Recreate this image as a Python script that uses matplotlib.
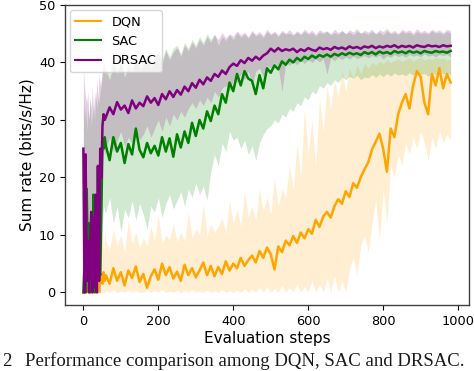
import numpy as np
import matplotlib
matplotlib.use("Agg")
import matplotlib.pyplot as plt

# ---------------- data ----------------
early_steps = list(range(0, 60, 3))
main_steps = list(range(60, 990, 10))
steps = early_steps + main_steps

# DQN
dqn_early = [0.0, 0.0, 0.5, 0.0, 0.8, 0.0, 0.5, 0.0, 0.6, 0.0,
             0.4, 0.0, 0.7, 0.0, 1.0, 2.5, 3.0, 1.5, 3.5, 2.0]
dqn_main = [3.0, 1.5, 4.2, 2.0, 3.5, 1.2, 3.8, 2.5, 4.5, 1.8,
            3.2, 0.8, 2.8, 4.0, 2.2, 5.0, 3.0, 4.4, 2.4, 3.6,
            2.0, 4.8, 3.0, 4.2, 2.6, 3.8, 5.2, 3.0, 4.6, 2.8,
            4.4, 3.2, 5.4, 3.8, 5.0, 4.2, 6.0, 4.6, 5.6, 6.4,
            5.2, 7.2, 6.0, 7.8, 6.6, 4.0, 8.0, 7.0, 9.0, 8.2,
            9.8, 8.6, 10.4, 9.4, 11.0, 10.2, 12.6, 11.4, 13.2, 14.0,
            13.0, 15.0, 16.2, 15.4, 17.6, 16.6, 19.0, 18.2, 20.0, 21.4,
            22.6, 24.8, 26.2, 27.6, 25.0, 21.0, 28.5, 27.0, 31.0, 33.0,
            34.5, 32.0, 36.0, 38.5, 37.5, 33.0, 31.0, 38.0, 36.0, 39.0,
            35.5, 38.0, 36.5]
dqn_up_early = [2, 4, 3, 5, 4, 6, 3, 5, 4, 6, 5, 7, 4, 6, 7, 9, 8, 10, 7, 11]
dqn_up_main = [9.0, 7.5, 11.0, 8.0, 10.0, 7.0, 12.5, 8.5, 10.5, 7.8,
               9.5, 8.0, 11.5, 9.0, 13.5, 8.5, 10.0, 9.2, 12.0, 8.8,
               10.5, 9.0, 14.0, 9.5, 11.0, 10.0, 15.5, 9.8, 12.0, 10.5,
               11.5, 13.0, 10.5, 16.0, 12.0, 14.5, 11.5, 17.5, 13.0, 15.0,
               12.5, 18.0, 14.0, 16.5, 13.5, 20.0, 15.0, 18.0, 16.5, 22.0,
               18.0, 26.0, 20.0, 32.0, 24.0, 30.0, 22.0, 34.0, 28.0, 36.0,
               32.0, 37.0, 34.0, 38.5, 35.0, 39.0, 37.0, 39.5, 38.0, 39.8,
               39.0, 40.0, 39.5, 40.2, 39.8, 40.5, 40.0, 40.3, 40.6, 40.2,
               40.5, 40.8, 40.2, 40.6, 40.9, 40.4, 40.7, 40.5, 40.9, 40.6,
               40.8, 40.4, 40.6]
dqn_lo_early = [0.0] * 20
dqn_lo_main = [0.3, 0.0, 0.5, 0.0, 0.2, 0.0, 0.4, 0.0, 0.3, 0.0,
               0.0, 0.4, 0.0, 0.3, 0.0, 0.5, 0.0, 0.2, 0.0, 0.4,
               0.0, 0.3, 0.0, 0.5, 0.0, 0.2, 0.0, 0.4, 0.0, 0.3,
               0.0, 0.5, 0.0, 0.3, 0.0, 0.4, 0.0, 0.6, 0.0, 0.5,
               0.0, 0.8, 0.0, 1.0, 0.0, 0.6, 0.0, 1.2, 0.0, 0.8,
               0.0, 1.5, 0.0, 1.0, 0.0, 2.0, 0.0, 1.5, 0.0, 2.5,
               0.0, 3.0, 0.0, 2.0, 0.0, 4.0, 6.0, 3.0, 8.0, 10.0,
               7.0, 12.0, 16.0, 9.0, 18.0, 12.0, 22.0, 20.0, 24.0, 22.0,
               26.0, 24.0, 27.0, 25.0, 28.0, 26.0, 23.0, 27.0, 25.0, 28.0,
               26.0, 27.5, 26.5]

# SAC
sac_early = [0.0, 5.0, 0.0, 18.0, 3.0, 12.0, 0.0, 6.0, 2.0, 17.0,
             0.0, 10.0, 3.0, 22.0, 4.0, 3.0, 14.0, 26.0, 25.0, 27.0]
sac_main = [25.5, 23.0, 27.0, 24.5, 26.0, 22.5, 25.8, 24.0, 28.5, 24.8,
            23.5, 26.0, 24.2, 25.5, 23.8, 27.0, 24.5, 26.8, 23.6, 27.5,
            25.2, 28.0, 26.0, 29.5, 27.2, 30.0, 28.5, 31.5, 29.8, 32.5,
            31.0, 34.5, 33.0, 36.5, 35.0, 38.0, 36.0, 38.5, 37.2, 36.8,
            34.5, 37.8, 35.5, 39.0, 38.2, 39.5, 38.8, 40.2, 39.6, 40.5,
            40.0, 40.8, 40.3, 41.0, 40.6, 41.2, 40.8, 41.3, 41.0, 41.4,
            41.0, 41.5, 41.2, 41.6, 41.3, 41.7, 41.4, 41.6, 41.3, 41.8,
            41.5, 41.8, 41.4, 41.9, 41.6, 41.8, 41.5, 42.0, 41.7, 41.9,
            41.6, 42.0, 41.7, 41.9, 41.6, 42.0, 41.8, 41.7, 42.0, 41.8,
            41.9, 41.7, 42.0]
sac_up_early = [35, 30, 33, 28, 32, 30, 34, 29, 31, 33,
                30, 35, 32, 34, 33, 35, 36, 38, 40, 39]
sac_up_main = [39.0, 38.0, 40.5, 38.5, 40.5, 38.0, 40.0, 39.0, 41.0, 39.5,
               40.0, 41.5, 40.0, 41.0, 42.0, 40.5, 42.5, 41.0, 42.5, 43.0,
               41.5, 43.5, 42.5, 44.0, 43.0, 44.5, 43.5, 45.0, 44.0, 45.0,
               43.0, 44.5, 43.8, 44.8, 44.0, 45.2, 44.4, 45.0, 44.2, 45.3,
               44.6, 45.0, 44.3, 45.4, 44.8, 45.2, 44.5, 45.3, 44.9, 45.1,
               44.7, 45.3, 44.8, 45.4, 44.9, 45.2, 44.6, 45.3, 45.0, 45.4,
               44.8, 45.2, 44.9, 45.5, 45.0, 45.3, 44.8, 45.4, 45.1, 45.2,
               44.9, 45.4, 45.0, 45.3, 44.8, 45.5, 45.0, 45.2, 44.9, 45.4,
               45.1, 45.3, 44.8, 45.4, 45.0, 45.2, 44.9, 45.5, 45.1, 45.3,
               44.9, 45.4, 45.1]
sac_lo_early = [0.0] * 16 + [5.0, 12.0, 15.0, 14.0]
sac_lo_main = [14.0, 16.5, 12.0, 15.0, 10.5, 14.5, 13.0, 16.0, 12.5, 15.5,
               13.5, 11.0, 15.0, 14.0, 16.5, 13.0, 15.5, 17.0, 14.5, 16.0,
               17.5, 15.0, 18.0, 16.5, 19.0, 17.0, 18.5, 16.0, 21.0, 24.0,
               22.0, 26.0, 24.5, 28.0, 26.5, 27.0, 25.0, 26.5, 24.0, 25.5,
               23.0, 26.0, 27.5, 28.5, 29.0, 30.0, 29.5, 31.0, 30.5, 32.0,
               31.5, 33.0, 32.5, 34.0, 33.5, 35.0, 34.5, 36.0, 35.5, 36.5,
               36.0, 37.0, 36.5, 37.5, 37.0, 37.6, 37.2, 37.8, 37.0, 37.5,
               37.3, 37.9, 37.4, 38.0, 37.5, 38.1, 37.6, 38.2, 37.8, 38.0,
               37.7, 38.2, 37.8, 38.3, 37.9, 38.1, 37.6, 38.2, 37.9, 38.3,
               38.0, 38.2, 37.8]

# DRSAC
drsac_early = [25.0, 0.0, 24.0, 2.0, 9.0, 0.0, 8.0, 14.0, 0.0, 13.0,
               1.0, 17.0, 0.0, 22.0, 2.0, 25.0, 20.0, 29.0, 31.0, 30.0]
drsac_main = [30.5, 32.2, 31.0, 33.1, 31.8, 32.5, 31.2, 33.4, 32.0, 33.0,
              32.4, 34.1, 33.0, 33.8, 32.6, 34.5, 33.6, 35.0, 34.0, 35.2,
              34.4, 35.8, 35.0, 36.4, 35.6, 37.0, 36.2, 37.4, 36.8, 38.0,
              37.5, 38.6, 38.0, 39.2, 39.8, 39.4, 40.4, 39.9, 40.8, 40.3,
              41.0, 40.5, 41.2, 41.6, 42.4, 41.9, 42.5, 42.0, 42.3, 42.1,
              42.4, 41.8, 42.3, 42.0, 42.5, 42.2, 42.0, 42.6, 42.3, 42.5,
              42.2, 42.7, 42.4, 42.6, 42.3, 42.8, 42.5, 42.7, 42.4, 42.8,
              42.6, 42.9, 42.5, 42.8, 42.6, 42.9, 42.7, 43.0, 42.6, 42.9,
              42.7, 42.9, 42.6, 43.0, 42.8, 42.7, 43.0, 42.8, 42.9, 42.7,
              43.0, 42.8, 42.9]
drsac_up_early = [39, 36, 34, 33, 35, 30, 34, 32, 36, 31,
                  35, 33, 37, 34, 38, 36, 37, 39, 40, 38]
drsac_up_main = [38.5, 37.0, 39.5, 38.0, 40.0, 37.5, 39.0, 38.2, 40.5, 38.8,
                 39.5, 41.0, 39.0, 40.5, 41.5, 39.8, 42.0, 40.5, 41.8, 42.6,
                 41.0, 43.0, 42.0, 43.5, 42.5, 44.0, 43.0, 44.5, 43.5, 44.8,
                 44.0, 45.2, 44.3, 45.0, 44.6, 45.5, 44.8, 45.3, 44.5, 45.6,
                 44.9, 45.4, 44.7, 45.8, 45.0, 45.5, 44.8, 45.6, 45.1, 45.7,
                 44.9, 45.5, 45.0, 45.8, 45.2, 45.6, 44.9, 45.7, 45.3, 45.5,
                 45.0, 45.8, 45.2, 45.6, 45.0, 45.7, 45.3, 45.9, 45.1, 45.6,
                 45.3, 45.8, 45.0, 45.7, 45.4, 45.9, 45.2, 45.6, 45.0, 45.8,
                 45.4, 45.7, 45.1, 45.9, 45.3, 45.6, 45.2, 45.8, 45.4, 45.7,
                 45.2, 45.8, 45.5]
drsac_lo_early = [0.0] * 16 + [10.0, 22.0, 25.0, 24.0]
drsac_lo_main = [25.0, 27.0, 24.5, 26.5, 28.0, 25.5, 27.0, 26.0, 28.5, 26.5,
                 27.5, 29.0, 27.0, 28.5, 30.0, 28.0, 30.5, 29.0, 31.0, 30.0,
                 31.5, 30.5, 32.0, 33.0, 32.0, 33.5, 32.5, 34.0, 33.0, 35.0,
                 34.0, 35.5, 36.0, 35.0, 37.0, 36.5, 38.0, 37.0, 38.5, 36.0,
                 38.5, 39.0, 37.5, 39.5, 39.0, 40.0, 39.2, 35.0, 40.0, 39.5,
                 40.2, 39.6, 40.4, 39.8, 40.5, 40.0, 40.6, 40.1, 40.7, 38.0,
                 40.8, 40.3, 40.9, 40.5, 41.0, 40.6, 41.1, 40.7, 40.9, 41.2,
                 40.8, 41.2, 40.9, 41.3, 40.6, 41.2, 40.9, 41.4, 41.0, 41.3,
                 40.9, 41.4, 41.1, 41.3, 41.0, 41.5, 41.1, 41.3, 41.0, 41.4,
                 41.2, 41.4, 41.0]

labels = ["DQN", "SAC", "DRSAC"]
colors = ["orange", "green", "purple"]
xticks = [0, 200, 400, 600, 800, 1000]
yticks = [0, 10, 20, 30, 40, 50]
caption_num = "2"
caption = "Performance comparison among DQN, SAC and DRSAC."

# ---------------- plot ----------------
x = np.array(steps)
series = [
    (np.array(dqn_early + dqn_main), np.array(dqn_lo_early + dqn_lo_main), np.array(dqn_up_early + dqn_up_main)),
    (np.array(sac_early + sac_main), np.array(sac_lo_early + sac_lo_main), np.array(sac_up_early + sac_up_main)),
    (np.array(drsac_early + drsac_main), np.array(drsac_lo_early + drsac_lo_main), np.array(drsac_up_early + drsac_up_main)),
]

fig = plt.figure(figsize=(4.74, 3.71), dpi=100)
ax = fig.add_axes([65 / 474, 1 - 305 / 371, (469 - 65) / 474, (305 - 5) / 371])

for (m, lo, up), c in zip(series, colors):
    ax.fill_between(x, lo, up, color=c, alpha=0.18, linewidth=0)
for (m, lo, up), c, lab in zip(series, colors, labels):
    ax.plot(x, m, color=c, lw=1.8, label=lab)

ax.set_xlim(-49, 1029)
ax.set_ylim(-2.2, 50)
ax.set_xticks(xticks)
ax.set_yticks(yticks)
ax.tick_params(labelsize=9.3)
ax.set_xlabel("Evaluation steps", fontsize=11, labelpad=2)
ax.set_ylabel("Sum rate (bits/s/Hz)", fontsize=11, labelpad=3)
for s in ax.spines.values():
    s.set_color("0.25")
    s.set_linewidth(1.0)
leg = ax.legend(loc="upper left", fontsize=9.3, handlelength=2.0, borderaxespad=0.4)
for ln in leg.get_lines():
    ln.set_linewidth(1.5)

fig.text(0.004, 0.014, caption_num, family="Liberation Serif", fontsize=13.5, color="0.1")
fig.text(25 / 474, 0.014, caption, family="Liberation Serif", fontsize=13.5, color="0.1")

fig.savefig("out.png", dpi=100)
